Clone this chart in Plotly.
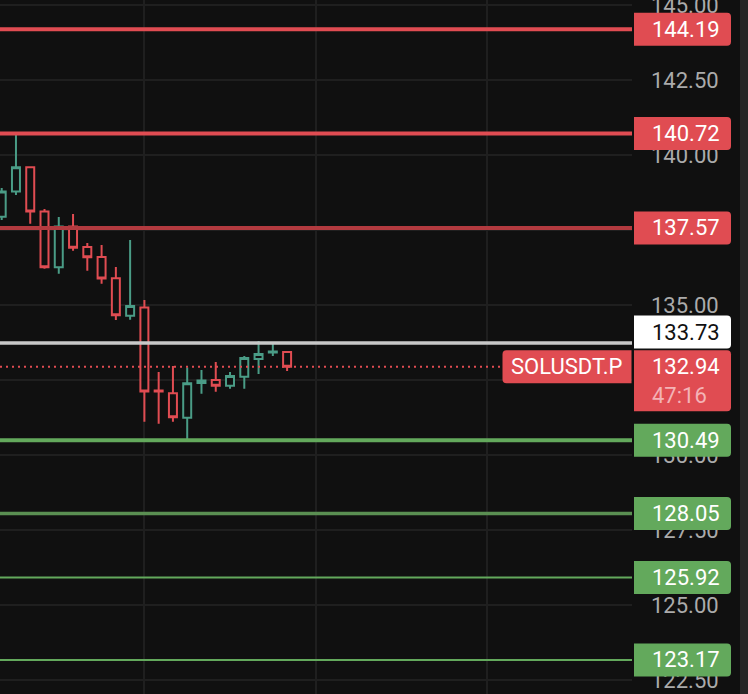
import plotly.graph_objects as go

# ---------------- data ----------------
candle_idx = list(range(21))
opens  = [137.94, 138.78, 139.59, 138.12, 136.26, 137.62, 136.93, 136.60, 135.89, 134.64, 134.92,
          132.15, 132.06, 131.24, 132.40, 132.50, 132.31, 132.61, 133.20, 133.42, 133.43]
highs  = [138.90, 140.75, 139.62, 138.20, 137.93, 138.03, 137.07, 137.00, 136.27, 137.17, 135.17,
          132.77, 132.97, 132.92, 132.83, 133.10, 132.77, 133.30, 133.80, 133.77, 133.44]
lows   = [137.83, 138.67, 137.71, 136.21, 136.04, 136.81, 136.14, 135.71, 134.50, 134.51, 131.11,
          131.04, 131.11, 130.52, 132.04, 132.11, 132.21, 132.21, 132.70, 133.30, 132.80]
closes = [138.78, 139.59, 138.12, 136.26, 137.62, 136.91, 136.59, 135.88, 134.66, 134.97, 132.12,
          132.12, 131.26, 132.39, 132.48, 132.31, 132.63, 133.23, 133.37, 133.45, 132.94]

resistance_levels = [144.19, 140.72, 137.57]
support_levels = [130.49, 128.05, 125.92, 123.17]
marked_price = 133.73
last_price = 132.94
symbol = "SOLUSDT.P"
countdown = "47:16"
price_ticks = [122.5, 125.0, 127.5, 130.0, 132.5, 135.0, 137.5, 140.0, 142.5, 145.0]
price_tick_labels = ["122.50", "125.00", "127.50", "130.00", "132.50",
                     "135.00", "137.50", "140.00", "142.50", "145.00"]
time_grid = [10, 22, 34]

# ---------------- style ----------------
W, H = 748, 694
PLOT_W = 632
BG = "#101010"
GRID = "#1f1f1f"
RED = "#e04c52"
RED_DARK = "#b23a3f"
GREEN = "#63a95c"
GREEN_DARK = "#5a8f52"
TEAL = "#4a9c86"
FONT = "Roboto"
Y0, Y1 = 122.0333, 145.1667
X0, X1 = -0.119, 44.17
UPP = (Y1 - Y0) / H  # price units per pixel

res_colors = [RED, RED, RED_DARK]
res_widths = [4, 4, 4]
sup_colors = [GREEN, GREEN_DARK, GREEN, GREEN]
sup_widths = [4, 3.5, 2, 2]


def px(p):
    return p / PLOT_W


def rbox(x0, x1, yc, h=33, shift=0, extra_down=0, rl=0, rr=4):
    top = yc + (h / 2 + shift) * UPP
    bot = yc - (h / 2 - shift + extra_down) * UPP
    xa, xb = px(x0), px(x1)
    rxr, ryr = px(rr), rr * UPP
    rxl, ryl = px(rl), rl * UPP
    return (f"M {xa},{bot} L {xb - rxr},{bot} Q {xb},{bot} {xb},{bot + ryr} "
            f"L {xb},{top - ryr} Q {xb},{top} {xb - rxr},{top} "
            f"L {xa + rxl},{top} Q {xa},{top} {xa},{top - ryl} "
            f"L {xa},{bot + ryl} Q {xa},{bot} {xa + rxl},{bot} Z")


fig = go.Figure()
fig.add_trace(go.Candlestick(
    x=candle_idx, open=opens, high=highs, low=lows, close=closes,
    increasing=dict(line=dict(color=TEAL, width=2), fillcolor=BG),
    decreasing=dict(line=dict(color=RED, width=2), fillcolor=BG),
    whiskerwidth=0, hoverinfo="skip",
))

shapes = []
annotations = []

def hline(y, color, width, dash="solid", x1=1.0):
    shapes.append(dict(type="line", xref="paper", yref="y", x0=0, x1=x1, y0=y, y1=y,
                       line=dict(color=color, width=width, dash=dash), layer="above"))

for lv, c, w in zip(resistance_levels, res_colors, res_widths):
    hline(lv, c, w)
for lv, c, w in zip(support_levels, sup_colors, sup_widths):
    hline(lv, c, w)
hline(marked_price, "#c8c8c8", 3.5)
hline(last_price, RED, 2, dash="2px,4px", x1=px(502))

def price_label(y, text, box, fg="white", shift=0, extra_down=0):
    shapes.append(dict(type="path", xref="paper", yref="y",
                       path=rbox(634, 731, y, shift=shift, extra_down=extra_down),
                       fillcolor=box, line=dict(width=0), layer="above"))
    annotations.append(dict(xref="paper", yref="y", x=px(650), y=y, yshift=shift,
                            xanchor="left", yanchor="middle", showarrow=False, text=text,
                            font=dict(family=FONT, size=22, color=fg)))

for lv in resistance_levels:
    price_label(lv, f"{lv:.2f}", RED)
for lv in support_levels:
    price_label(lv, f"{lv:.2f}", GREEN)
price_label(marked_price, f"{marked_price:.2f}", "#ffffff", fg="#111111", shift=11)
price_label(last_price, f"{last_price:.2f}", RED, extra_down=28)
annotations.append(dict(xref="paper", yref="y", x=px(650), y=last_price, yshift=-29,
                        xanchor="left", yanchor="middle", showarrow=False, text=countdown,
                        font=dict(family=FONT, size=22, color="#f4b3b6")))

# symbol tag
shapes.append(dict(type="path", xref="paper", yref="y",
                   path=rbox(502.5, 631.5, last_price, h=33, rl=4, rr=0),
                   fillcolor=RED, line=dict(width=0), layer="above"))
annotations.append(dict(xref="paper", yref="y", x=px(567), y=last_price,
                        xanchor="center", yanchor="middle", showarrow=False, text=symbol,
                        font=dict(family=FONT, size=22, color="white")))

# right edge strip
shapes.append(dict(type="rect", xref="paper", yref="paper", x0=px(740), x1=px(748), y0=0, y1=1,
                   fillcolor="#262626", line=dict(width=0), layer="above"))

fig.update_layout(
    width=W, height=H, margin=dict(l=0, r=W - PLOT_W, t=0, b=0, pad=0),
    paper_bgcolor=BG, plot_bgcolor=BG, showlegend=False,
    boxgap=0.44, boxgroupgap=0,
    shapes=shapes, annotations=annotations,
    xaxis=dict(range=[X0, X1], tickvals=time_grid, showticklabels=False, showgrid=True,
               gridcolor=GRID, gridwidth=2, zeroline=False, showline=False,
               rangeslider=dict(visible=False), fixedrange=True),
    yaxis=dict(side="right", range=[Y0, Y1], tickvals=price_ticks, ticktext=price_tick_labels,
               tickfont=dict(family=FONT, size=22, color="#ababab"), showgrid=True,
               gridcolor=GRID, gridwidth=2, zeroline=False, showline=False, ticks="",
               ticklabelstandoff=18, ticklabeloverflow="allow", automargin=False,
               fixedrange=True),
)

fig.write_html("out.html", config={"displayModeBar": False},
               post_script="document.body.style.margin='0';document.body.style.overflow='hidden';")
